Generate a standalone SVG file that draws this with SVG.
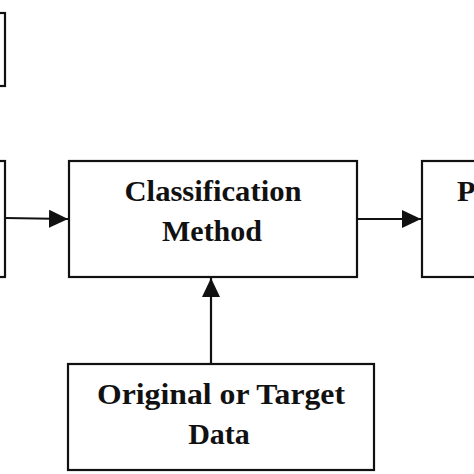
<svg xmlns="http://www.w3.org/2000/svg" width="474" height="474" viewBox="0 0 474 474">
<style>
.box{fill:#fff;stroke:#111;stroke-width:2.2}
.lbl{font-family:"Liberation Serif","Times New Roman",serif;font-weight:bold;font-size:30px;fill:#111;text-anchor:middle}
.edge{stroke:#111;stroke-width:2.2;fill:none}
</style>
<defs>
<marker id="arr" markerUnits="userSpaceOnUse" markerWidth="20" markerHeight="18" refX="19" refY="9" orient="auto">
<path d="M0,0 L19,9 L0,18 z" fill="#111"/>
</marker>
</defs>
<rect width="474" height="474" fill="#fff"/>
<g id="node-top-left"><rect class="box" x="-20" y="13" width="25" height="73"/></g>
<g id="node-left"><rect class="box" x="-20" y="161" width="25" height="116"/></g>
<g id="node-classification">
<rect class="box" x="69" y="161" width="288" height="116"/>
<text class="lbl" x="213" y="201" textLength="177" lengthAdjust="spacingAndGlyphs">Classification</text>
<text class="lbl" x="212" y="241">Method</text>
</g>
<g id="node-right">
<rect class="box" x="422" y="161" width="80" height="116"/>
<text class="lbl" x="457" y="201" style="text-anchor:start">P</text>
</g>
<g id="node-data">
<rect class="box" x="68" y="364" width="306" height="106"/>
<text class="lbl" x="221" y="404" textLength="248" lengthAdjust="spacingAndGlyphs">Original or Target</text>
<text class="lbl" x="219" y="444">Data</text>
</g>
<g id="connectors">
<line class="edge" x1="5" y1="218" x2="68" y2="219" marker-end="url(#arr)"/>
<line class="edge" x1="357" y1="219" x2="421" y2="219" marker-end="url(#arr)"/>
<line class="edge" x1="211" y1="364" x2="211" y2="278" marker-end="url(#arr)"/>
</g>
</svg>
